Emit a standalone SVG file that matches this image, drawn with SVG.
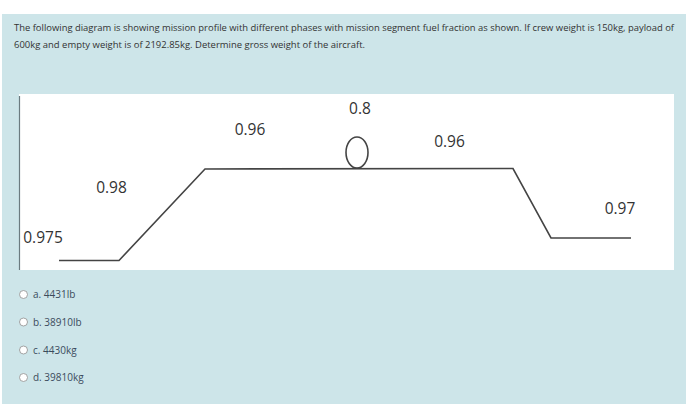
<svg xmlns="http://www.w3.org/2000/svg" width="688" height="410" viewBox="0 0 688 410">
<style>
.q{font-family:"Open Sans","Liberation Sans",sans-serif;font-size:9.6px;fill:#333}
.lbl{font-family:"Open Sans","Liberation Sans",sans-serif;font-size:15.5px;fill:#333}
.opt{font-family:"Open Sans","Liberation Sans",sans-serif;font-size:10px;fill:#3b4b5c}
.path{fill:none;stroke:#444;stroke-width:1.6}
.radio{fill:#fff;stroke:#999;stroke-width:0.9}
</style>
<rect x="0" y="0" width="688" height="410" fill="#ffffff"/>
<rect x="2" y="14" width="684" height="390" fill="#cde5e9"/>
<g id="question">
<text class="q" x="14" y="31" textLength="660" lengthAdjust="spacingAndGlyphs">The following diagram is showing mission profile with different phases with mission segment fuel fraction as shown. If crew weight is 150kg, payload of</text>
<text class="q" x="14" y="48" textLength="351" lengthAdjust="spacingAndGlyphs">600kg and empty weight is of 2192.85kg. Determine gross weight of the aircraft.</text>
</g>
<g id="figure">
<rect x="19" y="94" width="655" height="176" fill="#ffffff"/>
<line x1="19.5" y1="96" x2="19.5" y2="270" stroke="#6b7b80" stroke-width="1.2"/>
</g>
<g id="connectors">
<polyline class="path" points="59,260.5 119,260.5 205,169 513,168.5 551,238 631,238"/>
<ellipse class="path" cx="357" cy="152.5" rx="11" ry="15.5"/>
</g>
<g id="labels">
<text class="lbl" x="360" y="114" text-anchor="middle">0.8</text>
<text class="lbl" x="250" y="135" text-anchor="middle">0.96</text>
<text class="lbl" x="449.5" y="147" text-anchor="middle">0.96</text>
<text class="lbl" x="111.5" y="193" text-anchor="middle">0.98</text>
<text class="lbl" x="620" y="214" text-anchor="middle">0.97</text>
<text class="lbl" x="43" y="243" text-anchor="middle">0.975</text>
</g>
<g id="option-a">
<circle class="radio" cx="23.5" cy="294.5" r="4"/>
<text class="opt" x="33" y="298">a. 4431lb</text>
</g>
<g id="option-b">
<circle class="radio" cx="23.5" cy="322" r="4"/>
<text class="opt" x="33" y="325.5">b. 38910lb</text>
</g>
<g id="option-c">
<circle class="radio" cx="23.5" cy="350" r="4"/>
<text class="opt" x="33" y="353.5">c. 4430kg</text>
</g>
<g id="option-d">
<circle class="radio" cx="23.5" cy="377.5" r="4"/>
<text class="opt" x="33" y="381">d. 39810kg</text>
</g>
</svg>
